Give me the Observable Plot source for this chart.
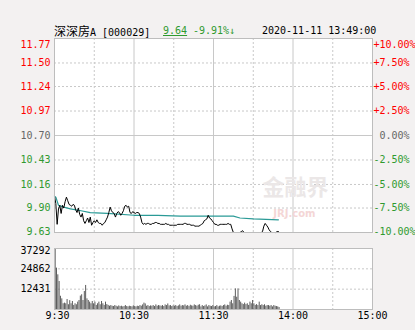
<!DOCTYPE html>
<html><head><meta charset="utf-8">
<script src="https://cdn.jsdelivr.net/npm/d3@7"></script>
<script src="https://cdn.jsdelivr.net/npm/@observablehq/plot@0.6"></script>
<style>
body{margin:0;background:#f3f1f1;}
#wrap{position:relative;width:415px;height:330px;overflow:hidden;font-family:"DejaVu Sans Mono",monospace;}
.t{position:absolute;top:24px;font-size:10px;line-height:14px;white-space:pre;color:#000;}
#c1,#c2{position:absolute;left:0;}
</style></head><body>
<div id="wrap">
  <div id="c1" style="top:0"></div>
  <div id="c2" style="top:240px"></div>
  <div id="title"></div>
</div>
<script>
// ---- data ----
const stockName = "深深房";
const stockSuffix = "A [000029]";
const lastPrice = "9.64";
const changePct = "-9.91%↓";
const timestamp = "2020-11-11 13:49:00";

const priceTicks = [11.77, 11.50, 11.24, 10.97, 10.70, 10.43, 10.16, 9.90, 9.63];
const priceTickLabels = ["11.77","11.50","11.24","10.97","10.70","10.43","10.16","9.90","9.63"];
const pctLabels = ["+10.00%","+7.50%","+5.00%","+2.50%","\u00a00.00%","-2.50%","-5.00%","-7.50%","-10.00%"];
const prevClose = 10.70;

const volTicks = [37292, 24862, 12431];
const volTickLabels = ["37292","24862","12431"];

const timeTickMinutes = [0, 60, 120, 180, 240];
const timeTickLabels = ["\u00a09:30", "10:30", "11:30", "14:00", "15:00"];
const gridDashedMinutes = [30, 90, 150, 210];
const gridSolidMinutes = [60, 120, 180];

// minute index from 9:30 (trading minutes), one value per minute
const priceValues = [
10.03,9.95,9.72,9.89,9.93,9.84,9.93,9.90,9.97,10.02,
9.98,9.94,9.93,9.92,9.94,9.93,9.88,9.85,9.90,9.83,
9.80,9.84,9.76,9.73,9.76,9.79,9.74,9.80,9.71,9.74,
9.76,9.74,9.77,9.74,9.73,9.73,9.71,9.73,9.74,9.77,
9.80,9.85,9.91,9.87,9.85,9.84,9.80,9.84,9.86,9.85,
9.82,9.84,9.87,9.92,9.93,9.91,9.92,9.85,9.84,9.86,
9.85,9.84,9.85,9.85,9.84,9.80,9.74,9.72,9.73,9.72,
9.73,9.73,9.72,9.72,9.73,9.73,9.74,9.74,9.73,9.73,
9.72,9.72,9.72,9.72,9.73,9.72,9.72,9.71,9.71,9.71,
9.71,9.71,9.71,9.72,9.72,9.72,9.72,9.72,9.73,9.73,
9.72,9.72,9.72,9.71,9.71,9.71,9.70,9.70,9.70,9.70,
9.71,9.72,9.73,9.76,9.77,9.78,9.82,9.79,9.78,9.76,
9.74,9.72,9.72,9.71,9.71,9.72,9.72,9.72,9.72,9.72,
9.72,9.73,9.72,9.72,9.67,9.63,9.63,9.63,9.63,9.63,
9.63,9.64,9.65,9.63,9.63,9.63,9.63,9.63,9.63,9.63,
9.63,9.63,9.63,9.63,9.63,9.63,9.63,9.64,9.70,9.73,
9.71,9.69,9.66,9.64,9.63,9.63,9.63,9.63,9.64,9.64
];
const avgMinutes = [0, 1, 3, 7, 12, 20, 27, 40, 60, 78, 95, 115, 120, 135, 140, 150, 169];
const avgValues  = [10.03, 10.02, 9.93, 9.91, 9.89, 9.87, 9.85, 9.84, 9.82, 9.82, 9.81, 9.81, 9.81, 9.81, 9.79, 9.78, 9.77];

const volumeValues = [
37292,25300,21200,17100,8100,6500,3500,3900,3500,6100,
2900,5400,3500,4900,2500,3500,2900,4500,5500,8200,
9000,5500,11000,14700,6500,5500,4500,3500,4900,3500,
4500,2500,3500,4500,2900,4900,3500,2500,4500,3000,
2500,2000,2400,2000,1800,2400,2000,1600,2200,1800,
2000,1600,1800,2400,1800,1600,2000,1800,1600,2200,
1800,1600,2000,1800,2400,2000,2800,3900,3400,2000,
2400,1800,2200,2000,2400,1800,2800,2000,2400,2200,
2000,2400,1800,2800,2400,3400,2200,2400,1800,2200,
2000,2400,1800,2200,2800,2000,2400,2200,2800,2000,
2400,1800,2600,2200,2000,2800,2400,2000,2600,2900,
1600,2400,1800,2200,2800,1600,2400,2000,1800,2400,
1600,1800,2400,1600,2000,2200,1800,2400,2800,2000,
2600,2400,4500,5500,3500,8000,12600,7500,12600,5500,
4500,3500,3000,3900,3000,3500,2500,4500,3500,5500,
3500,2500,3000,2400,4500,2400,2900,2400,2900,2000,
2400,2400,2000,2400,1600,2400,2000,1800,1600,1200
];

// ---- build ----
const red = "#ff0000", green = "#2f9a2f", gray = "#666666";
const gridC = "#c8c8c8", frameC = "#bdbdbd";
const font = {fontFamily: "DejaVu Sans Mono, monospace", fontSize: "10px", background: "transparent", overflow: "visible"};

const priceData = priceValues.map((p, i) => ({m: i, p}));
const avgData = avgMinutes.map((m, k) => ({m, p: avgValues[k]}));
const volData = volumeValues.map((v, i) => ({m: i + 0.5, v}));
const tickRows = priceTicks.map((p, k) => ({p, label: priceTickLabels[k], pct: pctLabels[k],
  color: p > prevClose + 1e-9 ? red : (Math.abs(p - prevClose) < 1e-9 ? gray : green)}));
const midRows = tickRows.filter((d, k) => k > 0 && k < tickRows.length - 1);
const topRows = tickRows.slice(0, 1), botRows = tickRows.slice(-1);

const xScale = {type: "linear", domain: [0, 240]};
const M = {marginLeft: 54, marginRight: 43};

const labelMarks = (rows, dy) => [
  Plot.text(rows, {y: "p", text: "label", fill: "color", frameAnchor: "left", textAnchor: "end", dx: -4, dy}),
  Plot.text(rows, {y: "p", text: "pct", fill: "color", frameAnchor: "right", textAnchor: "start", dx: 1, dy})
];

const c1 = Plot.plot({
  width: 415, height: 240, marginTop: 38, marginBottom: 8, ...M,
  style: font,
  x: {...xScale, axis: null},
  y: {domain: [9.63, 11.77], axis: null},
  marks: [
    Plot.frame({fill: "white", stroke: null}),
    Plot.ruleY(priceTicks.filter(p => p !== prevClose && p !== 11.77 && p !== 9.63), {stroke: gridC, strokeDasharray: "2,2"}),
    Plot.ruleY([prevClose], {stroke: gridC}),
    Plot.ruleX(gridDashedMinutes, {stroke: gridC, strokeDasharray: "2,2"}),
    Plot.ruleX(gridSolidMinutes, {stroke: gridC}),
    Plot.text(["金融界"], {frameAnchor: "bottom-right", dx: -44, dy: -38, fill: "#ebe7e7", fontSize: 22, fontWeight: "bold", fontFamily: "Noto Sans CJK SC"}),
    Plot.text(["JRJ.com"], {frameAnchor: "bottom-right", dx: -57, dy: -16, fill: "#f4d6d6", fontSize: 10, fontWeight: "bold", fontFamily: "DejaVu Sans"}),
    Plot.line(avgData, {x: "m", y: "p", stroke: "#2a9a96", strokeWidth: 1.2}),
    Plot.line(priceData, {x: "m", y: "p", stroke: "#000", strokeWidth: 1}),
    Plot.frame({stroke: frameC}),
    ...labelMarks(midRows, 0),
    ...labelMarks(topRows, 6),
    ...labelMarks(botRows, -1)
  ]
});
document.getElementById("c1").append(c1);

const c2 = Plot.plot({
  width: 415, height: 90, marginTop: 8, marginBottom: 21, ...M,
  style: font,
  x: {...xScale, axis: null},
  y: {domain: [0, volTicks[0]], axis: null},
  marks: [
    Plot.frame({fill: "white", stroke: null}),
    Plot.ruleY(volTicks.slice(1), {stroke: gridC, strokeDasharray: "2,2"}),
    Plot.ruleX(gridDashedMinutes, {stroke: gridC, strokeDasharray: "2,2"}),
    Plot.ruleX(gridSolidMinutes, {stroke: gridC}),
    Plot.ruleX(volData, {x: "m", y1: 0, y2: "v", stroke: "#5c5c5c", strokeWidth: 1}),
    Plot.frame({stroke: frameC}),
    Plot.text(volTicks.slice(1), {y: d => d, text: (d, k) => volTickLabels[k + 1], frameAnchor: "left", textAnchor: "end", dx: -4, fill: "#000"}),
    Plot.text(volTicks.slice(0, 1), {y: d => d, text: () => volTickLabels[0], frameAnchor: "left", textAnchor: "end", dx: -4, dy: 2, fill: "#000"}),
    Plot.text(timeTickMinutes, {x: d => d, text: (d, k) => timeTickLabels[k], frameAnchor: "bottom", dy: 9, fill: "#000"})
  ]
});
document.getElementById("c2").append(c2);

// title
const title = document.getElementById("title");
const seg = (left, html, style = "") => {
  const d = document.createElement("div");
  d.className = "t"; d.style.left = left + "px"; d.style.cssText += style; d.innerHTML = html;
  title.append(d);
};
seg(54, `<span style="font-family:'Noto Sans CJK SC';font-size:12px">${stockName}</span>${stockSuffix}`);
seg(163, lastPrice, `color:${green};text-decoration:underline;`);
seg(193, changePct, `color:${green};`);
seg(262, timestamp);
</script>
</body></html>
